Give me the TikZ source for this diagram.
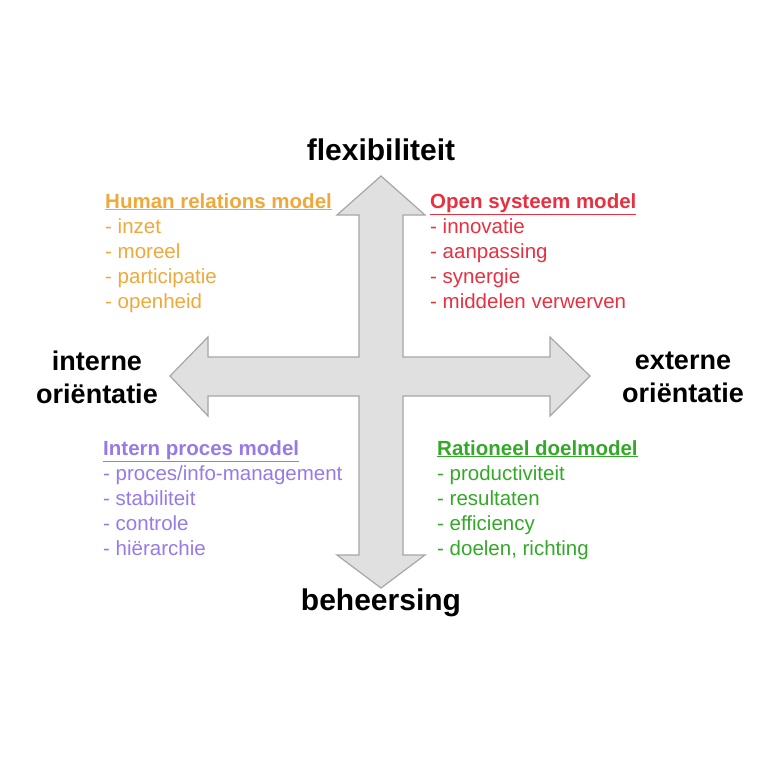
\documentclass[tikz,border=0pt]{standalone}
\usepackage{fontspec}
\setmainfont{Liberation Sans}
\usetikzlibrary{positioning}
\definecolor{hrm}{RGB}{240,168,58}
\definecolor{osm}{RGB}{232,48,64}
\definecolor{ipm}{RGB}{150,122,232}
\definecolor{rdm}{RGB}{52,168,40}
\begin{document}
\begin{tikzpicture}[x=1pt,y=-1pt,
  axis/.style={font=\fontsize{30}{33}\selectfont\bfseries,align=center},
  side/.style={font=\fontsize{27}{33}\selectfont\bfseries,align=center},
  quad/.style={font=\fontsize{20.5}{25}\selectfont,align=left,anchor=north west,inner sep=0pt}]
	\useasboundingbox (0,0) rectangle (768,768);
	%cross of arrows
	\draw[fill=black!12,draw=black!35,line width=1.2pt,line join=miter]
	(381,176) -- (425,215) -- (403,215) -- (403,357) -- (550,357) -- (550,337) -- (590,376)
	-- (550,416) -- (550,396) -- (403,396) -- (403,555) -- (425,555) -- (381,588)
	-- (337,555) -- (359,555) -- (359,396) -- (208,396) -- (208,416) -- (170,376)
	-- (208,337) -- (208,357) -- (359,357) -- (359,215) -- (337,215) -- cycle;

	\node[axis] (flex) at (381,150) {flexibiliteit};
	\node[axis] (beh) at (381,603) {beheersing};
	\node[side] (int) at (97,377) {interne\\oriëntatie};
	\node[side] (ext) at (683,377) {externe\\oriëntatie};

	%quadrants
	\node[quad,text=hrm] (hr) at (105,193) {\textbf{\underline{Human relations model}}\\- inzet\\- moreel\\- participatie\\- openheid};
	\node[quad,text=osm] (os) at (430,193) {\textbf{\underline{Open systeem model}}\\- innovatie\\- aanpassing\\- synergie\\- middelen verwerven};
	\node[quad,text=ipm] (ip) at (103,440) {\textbf{\underline{Intern proces model}}\\- proces/info-management\\- stabiliteit\\- controle\\- hiërarchie};
	\node[quad,text=rdm] (rd) at (437,440) {\textbf{\underline{Rationeel doelmodel}}\\- productiviteit\\- resultaten\\- efficiency\\- doelen, richting};
\end{tikzpicture}
\end{document}
